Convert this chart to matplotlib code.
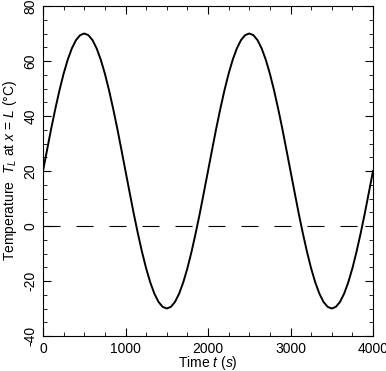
import matplotlib
matplotlib.use("Agg")
import matplotlib.pyplot as plt
from matplotlib.ticker import MultipleLocator

plt.rcParams["font.family"] = ["Liberation Sans", "DejaVu Sans"]
plt.rcParams["mathtext.fontset"] = "custom"
plt.rcParams["mathtext.it"] = "Liberation Sans:italic"
plt.rcParams["mathtext.rm"] = "Liberation Sans"
plt.rcParams["axes.unicode_minus"] = False

# time samples (s), read every 50 s
time_s = [i * 50 for i in range(81)]

# temperature at x = L (°C)
temp_c = [
    20, 27.8, 35.5, 42.7, 49.4, 55.4, 60.5, 64.6, 67.6, 69.4,
    70, 69.4, 67.6, 64.6, 60.5, 55.4, 49.4, 42.7, 35.5, 27.8,
    20, 12.2, 4.5, -2.7, -9.4, -15.4, -20.5, -24.6, -27.6, -29.4,
    -30, -29.4, -27.6, -24.6, -20.5, -15.4, -9.4, -2.7, 4.5, 12.2,
    20, 27.8, 35.5, 42.7, 49.4, 55.4, 60.5, 64.6, 67.6, 69.4,
    70, 69.4, 67.6, 64.6, 60.5, 55.4, 49.4, 42.7, 35.5, 27.8,
    20, 12.2, 4.5, -2.7, -9.4, -15.4, -20.5, -24.6, -27.6, -29.4,
    -30, -29.4, -27.6, -24.6, -20.5, -15.4, -9.4, -2.7, 4.5, 12.2,
    20,
]

ref_line = [0, 0]
ref_time = [0, 4000]

fig = plt.figure(figsize=(3.86, 3.71), dpi=100)
ax = fig.add_axes([43 / 386, 35 / 371, 330 / 386, 330 / 371])

ax.plot(time_s, temp_c, color="black", lw=1.4)
ax.plot(ref_time, ref_line, color="black", lw=0.8, dashes=(15.3, 14.4))

ax.set_xlim(0, 4000)
ax.set_ylim(-40, 80)
ax.xaxis.set_major_locator(MultipleLocator(1000))
ax.xaxis.set_minor_locator(MultipleLocator(250))
ax.yaxis.set_major_locator(MultipleLocator(20))
ax.yaxis.set_minor_locator(MultipleLocator(5))
ax.tick_params(which="both", direction="in", top=True, right=True, labelsize=10)
ax.tick_params(which="major", length=6, pad=4)
ax.tick_params(which="minor", length=3)
for lab in ax.get_yticklabels():
    lab.set_rotation(90)
    lab.set_va("center")

ax.set_xlabel("Time $t$ ($s$)", fontsize=10, va="center")
ax.xaxis.set_label_coords(0.5, -0.083)
ax.set_ylabel("Temperature  $T_L$ at $x$ = $L$ (°C)", fontsize=10, va="center")
ax.yaxis.set_label_coords(-0.1, 0.5)

fig.savefig("out.png", dpi=100)
